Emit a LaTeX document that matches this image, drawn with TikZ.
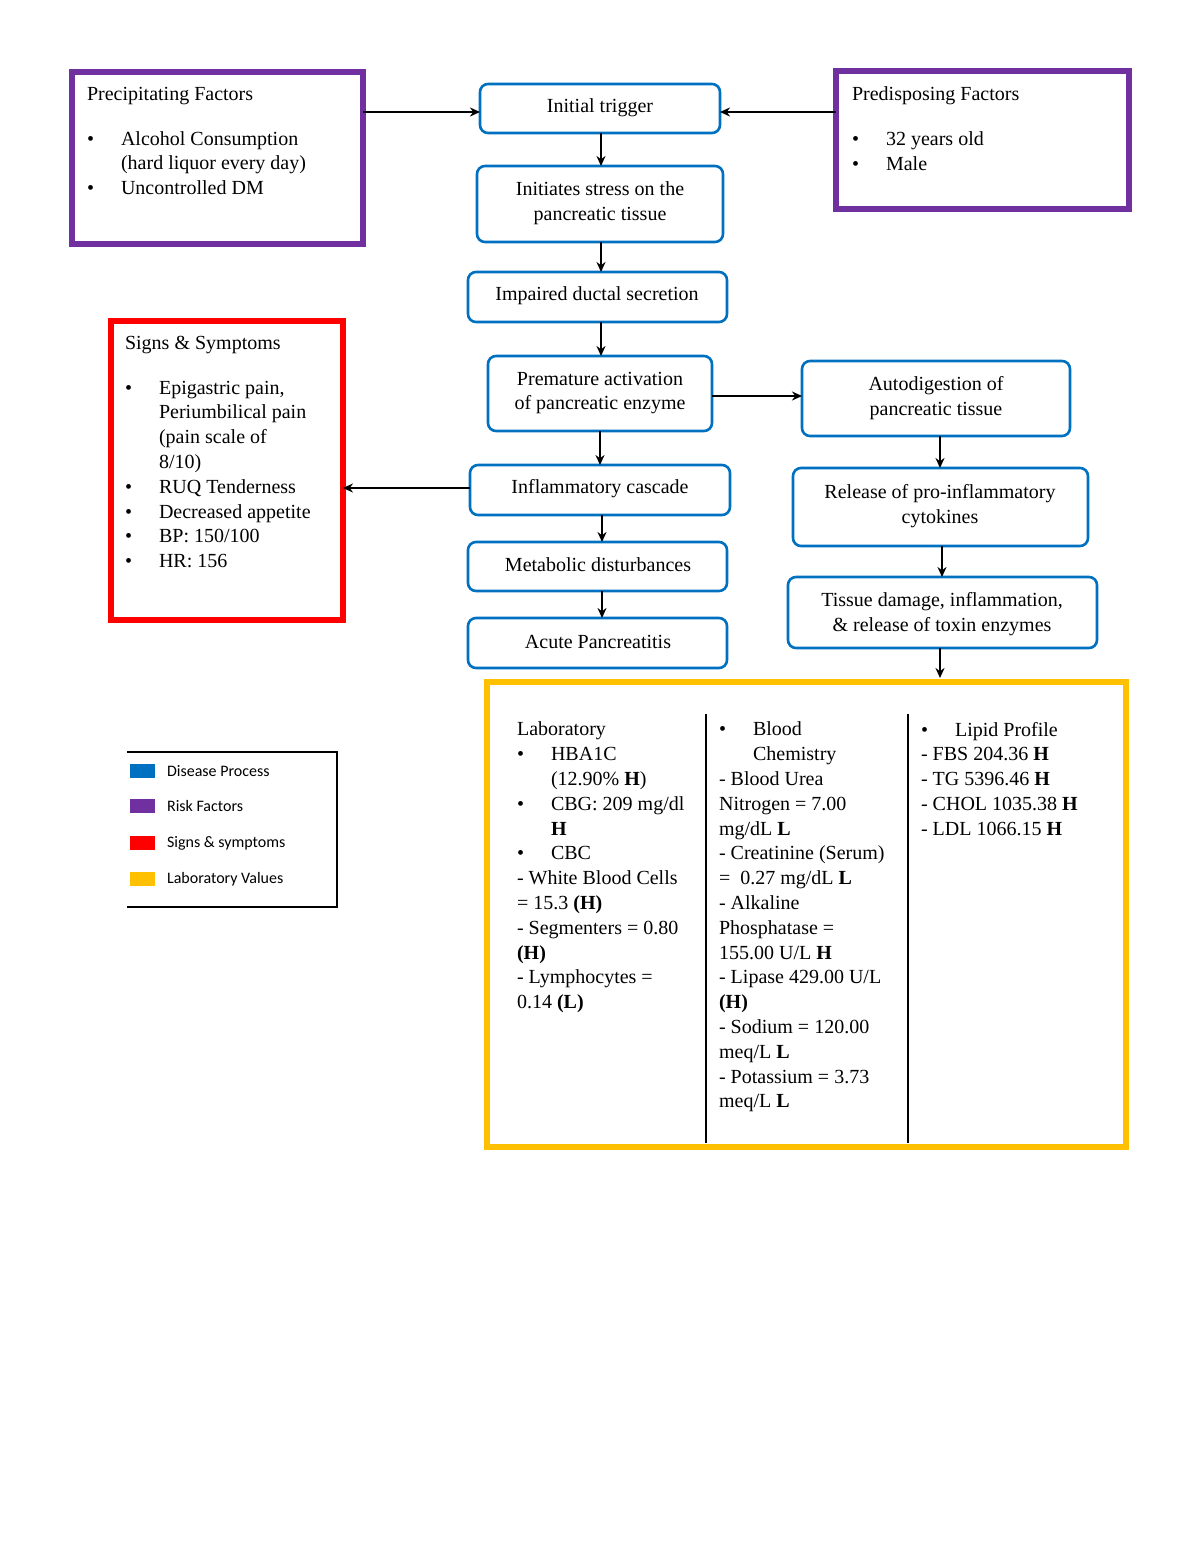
\documentclass[tikz,border=0pt]{standalone}
\usepackage{fontspec}
\setmainfont{Liberation Serif}
\newfontfamily\lsans{Carlito}
\usetikzlibrary{arrows.meta}
\definecolor{pur}{RGB}{112,48,160}
\definecolor{blu}{RGB}{0,112,192}
\definecolor{rd}{RGB}{255,0,0}
\definecolor{org}{RGB}{255,192,0}
\newcommand{\bl}[1]{\makebox[17pt][l]{\textbullet}#1}
\newcommand{\ind}{\hspace*{17pt}}
\begin{document}
\begin{tikzpicture}[x=0.5pt,y=-0.5pt,
  every node/.style={font=\fontsize{10}{12.4}\selectfont},
  flow/.style={draw=blu,line width=1.3pt,rounded corners=4pt},
  rbox/.style={line width=2.6pt},
  arr/.style={-{Stealth[length=5pt,width=4.5pt]},line width=1.3pt},
  lbl/.style={align=center,anchor=center}]
\useasboundingbox (0,0) rectangle (1200,1553);
% risk factor boxes
\draw[rbox,draw=pur] (72,72) rectangle (363,244) coordinate (pfbr);
\coordinate (pfR) at (363,112);
\node[anchor=north west,align=left] (pf) at (80,80) {Precipitating Factors\\[10pt]
\bl{Alcohol Consumption}\\ \ind(hard liquor every day)\\ \bl{Uncontrolled DM}};
\draw[rbox,draw=pur] (836,71) rectangle (1129,209);
\coordinate (pdL) at (836,112);
\node[anchor=north west,align=left] (pd) at (845,80) {Predisposing Factors\\[10pt]
\bl{32 years old}\\ \bl{Male}};
\draw[rbox,draw=rd] (111,321) rectangle (343,620);
\coordinate (ssR) at (343,488);
\node[anchor=north west,align=left] (ss) at (118,329) {Signs \& Symptoms\\[10pt]
\bl{Epigastric pain,}\\ \ind Periumbilical pain\\ \ind(pain scale of\\ \ind 8/10)\\
\bl{RUQ Tenderness}\\ \bl{Decreased appetite}\\ \bl{BP: 150/100}\\ \bl{HR: 156}};
% flow boxes
\draw[flow] (480,84) rectangle (720,133); \node[lbl] (t1) at (600,108) {Initial trigger};
\draw[flow] (477,166) rectangle (723,242); \node[lbl] (t2) at (600,203) {Initiates stress on the\\pancreatic tissue};
\draw[flow] (468,272) rectangle (727,322); \node[lbl] (t3) at (597,296) {Impaired ductal secretion};
\draw[flow] (488,356) rectangle (712,431); \node[lbl] (t4) at (600,393) {Premature activation\\of pancreatic enzyme};
\draw[flow] (802,361) rectangle (1070,436); \node[lbl] (r1) at (936,398) {Autodigestion of\\pancreatic tissue};
\draw[flow] (470,465) rectangle (730,515); \node[lbl] (t5) at (600,489) {Inflammatory cascade};
\draw[flow] (793,468) rectangle (1088,546); \node[lbl] (r2) at (940,506) {Release of pro-inflammatory\\cytokines};
\draw[flow] (468,542) rectangle (727,591); \node[lbl] (t6) at (598,565) {Metabolic disturbances};
\draw[flow] (788,577) rectangle (1097,648); \node[lbl] (r3) at (942,614) {Tissue damage, inflammation,\\\& release of toxin enzymes};
\draw[flow] (468,618) rectangle (727,668); \node[lbl] (t7) at (598,642) {Acute Pancreatitis};
% arrows
\draw[arr] (pfR) -- (480,112);
\draw[arr] (pdL) -- (720,112);
\draw[arr] (601,133) -- (601,166);
\draw[arr] (601,242) -- (601,272);
\draw[arr] (601,322) -- (601,356);
\draw[arr] (600,431) -- (600,465);
\draw[arr] (602,515) -- (602,542);
\draw[arr] (602,591) -- (602,618);
\draw[arr] (712,396) -- (802,396);
\draw[arr] (470,488) -- (ssR);
\draw[arr] (940,436) -- (940,468);
\draw[arr] (942,546) -- (942,577);
\coordinate (labtop) at (940,678);
\draw[arr] (940,648) -- (labtop);
% lab box
\draw[rbox,draw=org] (487,682) rectangle (1126,1147);
\draw[line width=0.6pt] (706,714) -- (706,1143) (908,714) -- (908,1143);
\node[anchor=north west,align=left] (lab1) at (510,715) {Laboratory\\
\bl{HBA1C}\\ \ind(12.90\% \textbf{H})\\ \bl{CBG: 209 mg/dl}\\ \ind\textbf{H}\\ \bl{CBC}\\
- White Blood Cells\\ = 15.3 \textbf{(H)}\\ - Segmenters = 0.80\\ \textbf{(H)}\\ - Lymphocytes =\\ 0.14 \textbf{(L)}};
\node[anchor=north west,align=left] (lab2) at (712,715) {\bl{Blood}\\ \ind Chemistry\\
- Blood Urea\\ Nitrogen = 7.00\\ mg/dL \textbf{L}\\ - Creatinine (Serum)\\ = \ 0.27 mg/dL \textbf{L}\\
- Alkaline\\ Phosphatase =\\ 155.00 U/L \textbf{H}\\ - Lipase 429.00 U/L\\ \textbf{(H)}\\
- Sodium = 120.00\\ meq/L \textbf{L}\\ - Potassium = 3.73\\ meq/L \textbf{L}};
\node[anchor=north west,align=left] (lab3) at (914,715) {\bl{Lipid Profile}\\
- FBS 204.36 \textbf{H}\\ - TG 5396.46 \textbf{H}\\ - CHOL 1035.38 \textbf{H}\\ - LDL 1066.15 \textbf{H}};
% legend
\draw[line width=0.6pt] (127,752) -- (337,752) -- (337,907) -- (127,907);
\foreach \y/\c/\t [count=\i] in {771/blu/Disease Process,806/pur/Risk Factors,843/rd/Signs \& symptoms,879/org/Laboratory Values}{
  \fill[\c] (130,\y-7) rectangle (155,\y+7);
  \node[anchor=west,font=\lsans\fontsize{8}{9}\selectfont] (lg\i) at (160,\y) {\t};
}
\end{tikzpicture}
\end{document}
